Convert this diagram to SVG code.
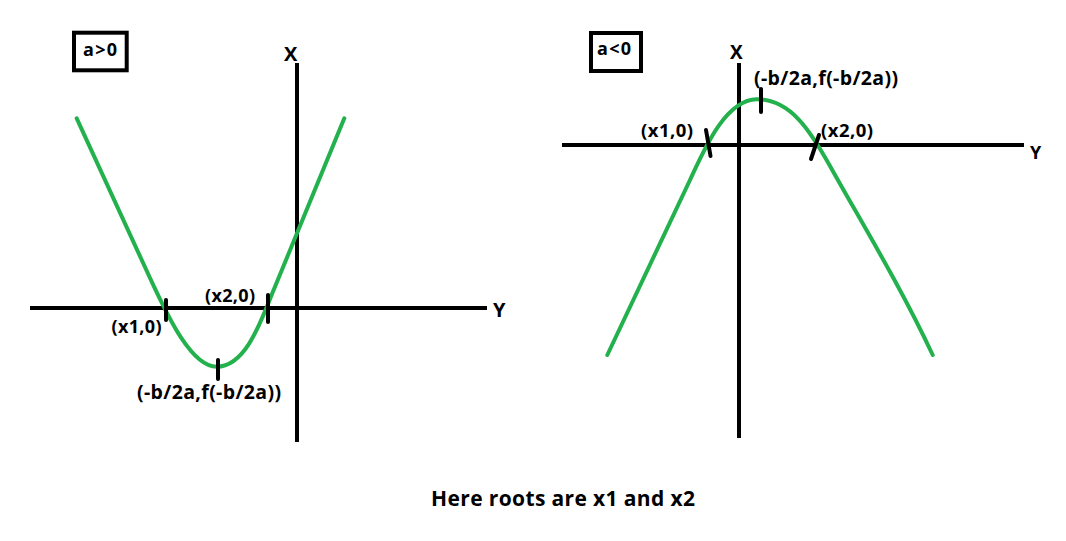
<svg xmlns="http://www.w3.org/2000/svg" width="1066" height="541" viewBox="0 0 1066 541">
  <style>
    .axis { stroke: #000; stroke-width: 4; fill: none; }
    .tick { stroke: #000; stroke-width: 4; fill: none; stroke-linecap: round; }
    .curve { stroke: #22b14c; stroke-width: 4; fill: none; stroke-linecap: round; stroke-linejoin: round; }
    .box { stroke: #000; stroke-width: 4; fill: #fff; }
    .lbl { font-family: "Open Sans", "Liberation Sans", Arial, sans-serif; font-weight: bold; fill: #000; }
  </style>
  <rect width="1066" height="541" fill="#fff"/>

  <!-- Left panel: a>0 -->
  <g id="left-condition">
    <rect class="box" x="74" y="32.7" width="52.7" height="37.6"/>
    <text class="lbl" x="83" y="56" font-size="18" textLength="34">a&gt;0</text>
  </g>
  <g id="left-axes">
    <line class="axis" x1="297" y1="63" x2="297" y2="442"/>
    <line class="axis" x1="30" y1="308" x2="487" y2="308"/>
    <text class="lbl" x="284" y="61" font-size="20">X</text>
    <text class="lbl" x="493" y="317" font-size="20">Y</text>
  </g>
  <g id="left-curve">
    <path class="curve" d="M76.7,118.3 L150,278 C165,310 190,366.7 216.7,366.7 C243,366.7 258,330 272,294 L344.3,118.3"/>
  </g>
  <g id="left-x1">
    <line class="tick" x1="166" y1="300" x2="166" y2="320"/>
    <text class="lbl" x="111.5" y="333" font-size="18" textLength="50">(x1,0)</text>
  </g>
  <g id="left-x2">
    <line class="tick" x1="268" y1="295" x2="268" y2="322"/>
    <text class="lbl" x="205" y="302" font-size="18" textLength="50">(x2,0)</text>
  </g>
  <g id="left-vertex">
    <line class="tick" x1="218" y1="360" x2="218" y2="379"/>
    <text class="lbl" x="137" y="399" font-size="19.5" textLength="144">(-b/2a,f(-b/2a))</text>
  </g>

  <!-- Right panel: a<0 -->
  <g id="right-condition">
    <rect class="box" x="591" y="33" width="50" height="38"/>
    <text class="lbl" x="597" y="55" font-size="18" textLength="34">a&lt;0</text>
  </g>
  <g id="right-axes">
    <line class="axis" x1="739" y1="63" x2="739" y2="438"/>
    <line class="axis" x1="562" y1="145" x2="1024" y2="145"/>
    <text class="lbl" x="730" y="59" font-size="19">X</text>
    <text class="lbl" x="1030" y="159" font-size="18">Y</text>
  </g>
  <g id="right-curve">
    <path class="curve" d="M607.3,355 L690,180 C704,150 725,100 756.7,99.3 C790,99 810,130 830,166 C860,220 900,285 932.7,355"/>
  </g>
  <g id="right-x1">
    <line class="tick" x1="706" y1="130" x2="710.5" y2="156"/>
    <text class="lbl" x="641" y="137" font-size="18.5" textLength="52">(x1,0)</text>
  </g>
  <g id="right-x2">
    <line class="tick" x1="819" y1="135" x2="811" y2="159"/>
    <text class="lbl" x="821" y="137" font-size="18.5" textLength="52">(x2,0)</text>
  </g>
  <g id="right-vertex">
    <line class="tick" x1="761" y1="89" x2="761" y2="112"/>
    <text class="lbl" x="754" y="85" font-size="19.5" textLength="144">(-b/2a,f(-b/2a))</text>
  </g>

  <g id="caption">
    <text class="lbl" x="431" y="506" font-size="21" textLength="264">Here roots are x1 and x2</text>
  </g>
</svg>
